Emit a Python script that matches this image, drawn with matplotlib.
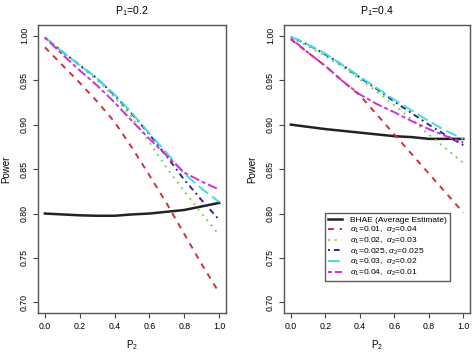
import numpy as np
import matplotlib
matplotlib.use('Agg')
import matplotlib.pyplot as plt

plt.rcParams['font.family'] = ['Liberation Sans', 'DejaVu Sans']
plt.rcParams['mathtext.fontset'] = 'custom'
plt.rcParams['mathtext.rm'] = 'Liberation Sans'
plt.rcParams['mathtext.it'] = 'Liberation Sans:italic'

p2 = [0.0, 0.1, 0.2, 0.3, 0.4, 0.5, 0.6, 0.7, 0.8, 0.9, 1.0]

# P1 = 0.2
bhae_a = [0.800, 0.799, 0.798, 0.7975, 0.7975, 0.799, 0.800, 0.802, 0.804, 0.808, 0.812]
a01_a = [0.987, 0.967, 0.947, 0.926, 0.903, 0.874, 0.843, 0.811, 0.777, 0.743, 0.711]
a02_a = [0.998, 0.982, 0.966, 0.950, 0.931, 0.908, 0.880, 0.851, 0.825, 0.800, 0.776]
a025_a = [0.998, 0.982, 0.967, 0.952, 0.933, 0.912, 0.889, 0.864, 0.838, 0.815, 0.793]
a03_a = [0.998, 0.982, 0.967, 0.952, 0.934, 0.913, 0.890, 0.868, 0.845, 0.828, 0.813]
a04_a = [0.998, 0.979, 0.961, 0.944, 0.925, 0.904, 0.884, 0.865, 0.846, 0.836, 0.827]

# P1 = 0.4
bhae_b = [0.900, 0.8975, 0.895, 0.893, 0.891, 0.889, 0.887, 0.886, 0.884, 0.884, 0.884]
a01_b = [0.996, 0.981, 0.966, 0.949, 0.933, 0.911, 0.889, 0.867, 0.845, 0.823, 0.801]
a02_b = [0.998, 0.988, 0.977, 0.965, 0.951, 0.937, 0.922, 0.906, 0.889, 0.873, 0.857]
a025_b = [0.999, 0.990, 0.979, 0.967, 0.953, 0.940, 0.926, 0.913, 0.900, 0.888, 0.877]
a03_b = [0.999, 0.990, 0.980, 0.967, 0.954, 0.941, 0.928, 0.916, 0.904, 0.893, 0.884]
a04_b = [0.997, 0.981, 0.966, 0.949, 0.934, 0.923, 0.914, 0.904, 0.895, 0.887, 0.880]

titles = ['P$_1$=0.2', 'P$_1$=0.4']
labels = ['BHAE (Average Estimate)',
          r'$\alpha_1$=0.01,  $\alpha_2$=0.04',
          r'$\alpha_1$=0.02,  $\alpha_2$=0.03',
          r'$\alpha_1$=0.025, $\alpha_2$=0.025',
          r'$\alpha_1$=0.03,  $\alpha_2$=0.02',
          r'$\alpha_1$=0.04,  $\alpha_2$=0.01']
colors = ['#222222', '#d0303a', '#7fd060', '#2a2a9a', '#3fe0e0', '#d030d0']
dashes = [None, (3, 3), (1, 2.5), (1, 2, 3, 2), (6, 2.5), (2, 1.5, 5, 1.5)]
widths = [1.8, 1.4, 1.4, 1.4, 1.4, 1.4]

fig = plt.figure(figsize=(4.74, 3.53), dpi=100)
boxes = [[0.080, 0.113, 0.397, 0.816], [0.599, 0.113, 0.393, 0.816]]
panels = [[bhae_a, a01_a, a02_a, a025_a, a03_a, a04_a],
          [bhae_b, a01_b, a02_b, a025_b, a03_b, a04_b]]

for box, title, series in zip(boxes, titles, panels):
    ax = fig.add_axes(box)
    for y, c, d, w, lab in zip(series, colors, dashes, widths, labels):
        line, = ax.plot(p2, y, color=c, lw=w, label=lab)
        if d is not None:
            line.set_dashes(d)
    ax.set_xlim(-0.04, 1.04)
    ax.set_ylim(0.688, 1.012)
    ax.set_xticks([0.0, 0.2, 0.4, 0.6, 0.8, 1.0])
    ax.set_xticklabels(['0.0', '0.2', '0.4', '0.6', '0.8', '1.0'])
    ax.set_yticks([0.70, 0.75, 0.80, 0.85, 0.90, 0.95, 1.00])
    ax.set_yticklabels(['0.70', '0.75', '0.80', '0.85', '0.90', '0.95', '1.00'],
                       rotation=90, va='center')
    ax.tick_params(labelsize=6.3, length=3.5, width=0.8, color='#444444', pad=3)
    for s in ax.spines.values():
        s.set_color('#555555')
        s.set_linewidth(1.0)
    ax.set_title(title, fontsize=7.5, pad=8)
    ax.set_xlabel('P$_2$', fontsize=7, labelpad=5)
    ax.set_ylabel('Power', fontsize=7, labelpad=6)

leg = ax.legend(loc='upper left', bbox_to_anchor=(0.22, 0.347), fontsize=6,
                frameon=True, fancybox=False, edgecolor='#333333',
                handlelength=1.7, labelspacing=0.08, borderpad=0.35,
                handletextpad=1.0, borderaxespad=0)
leg.get_frame().set_linewidth(1.0)

fig.savefig('out.png', dpi=100)
